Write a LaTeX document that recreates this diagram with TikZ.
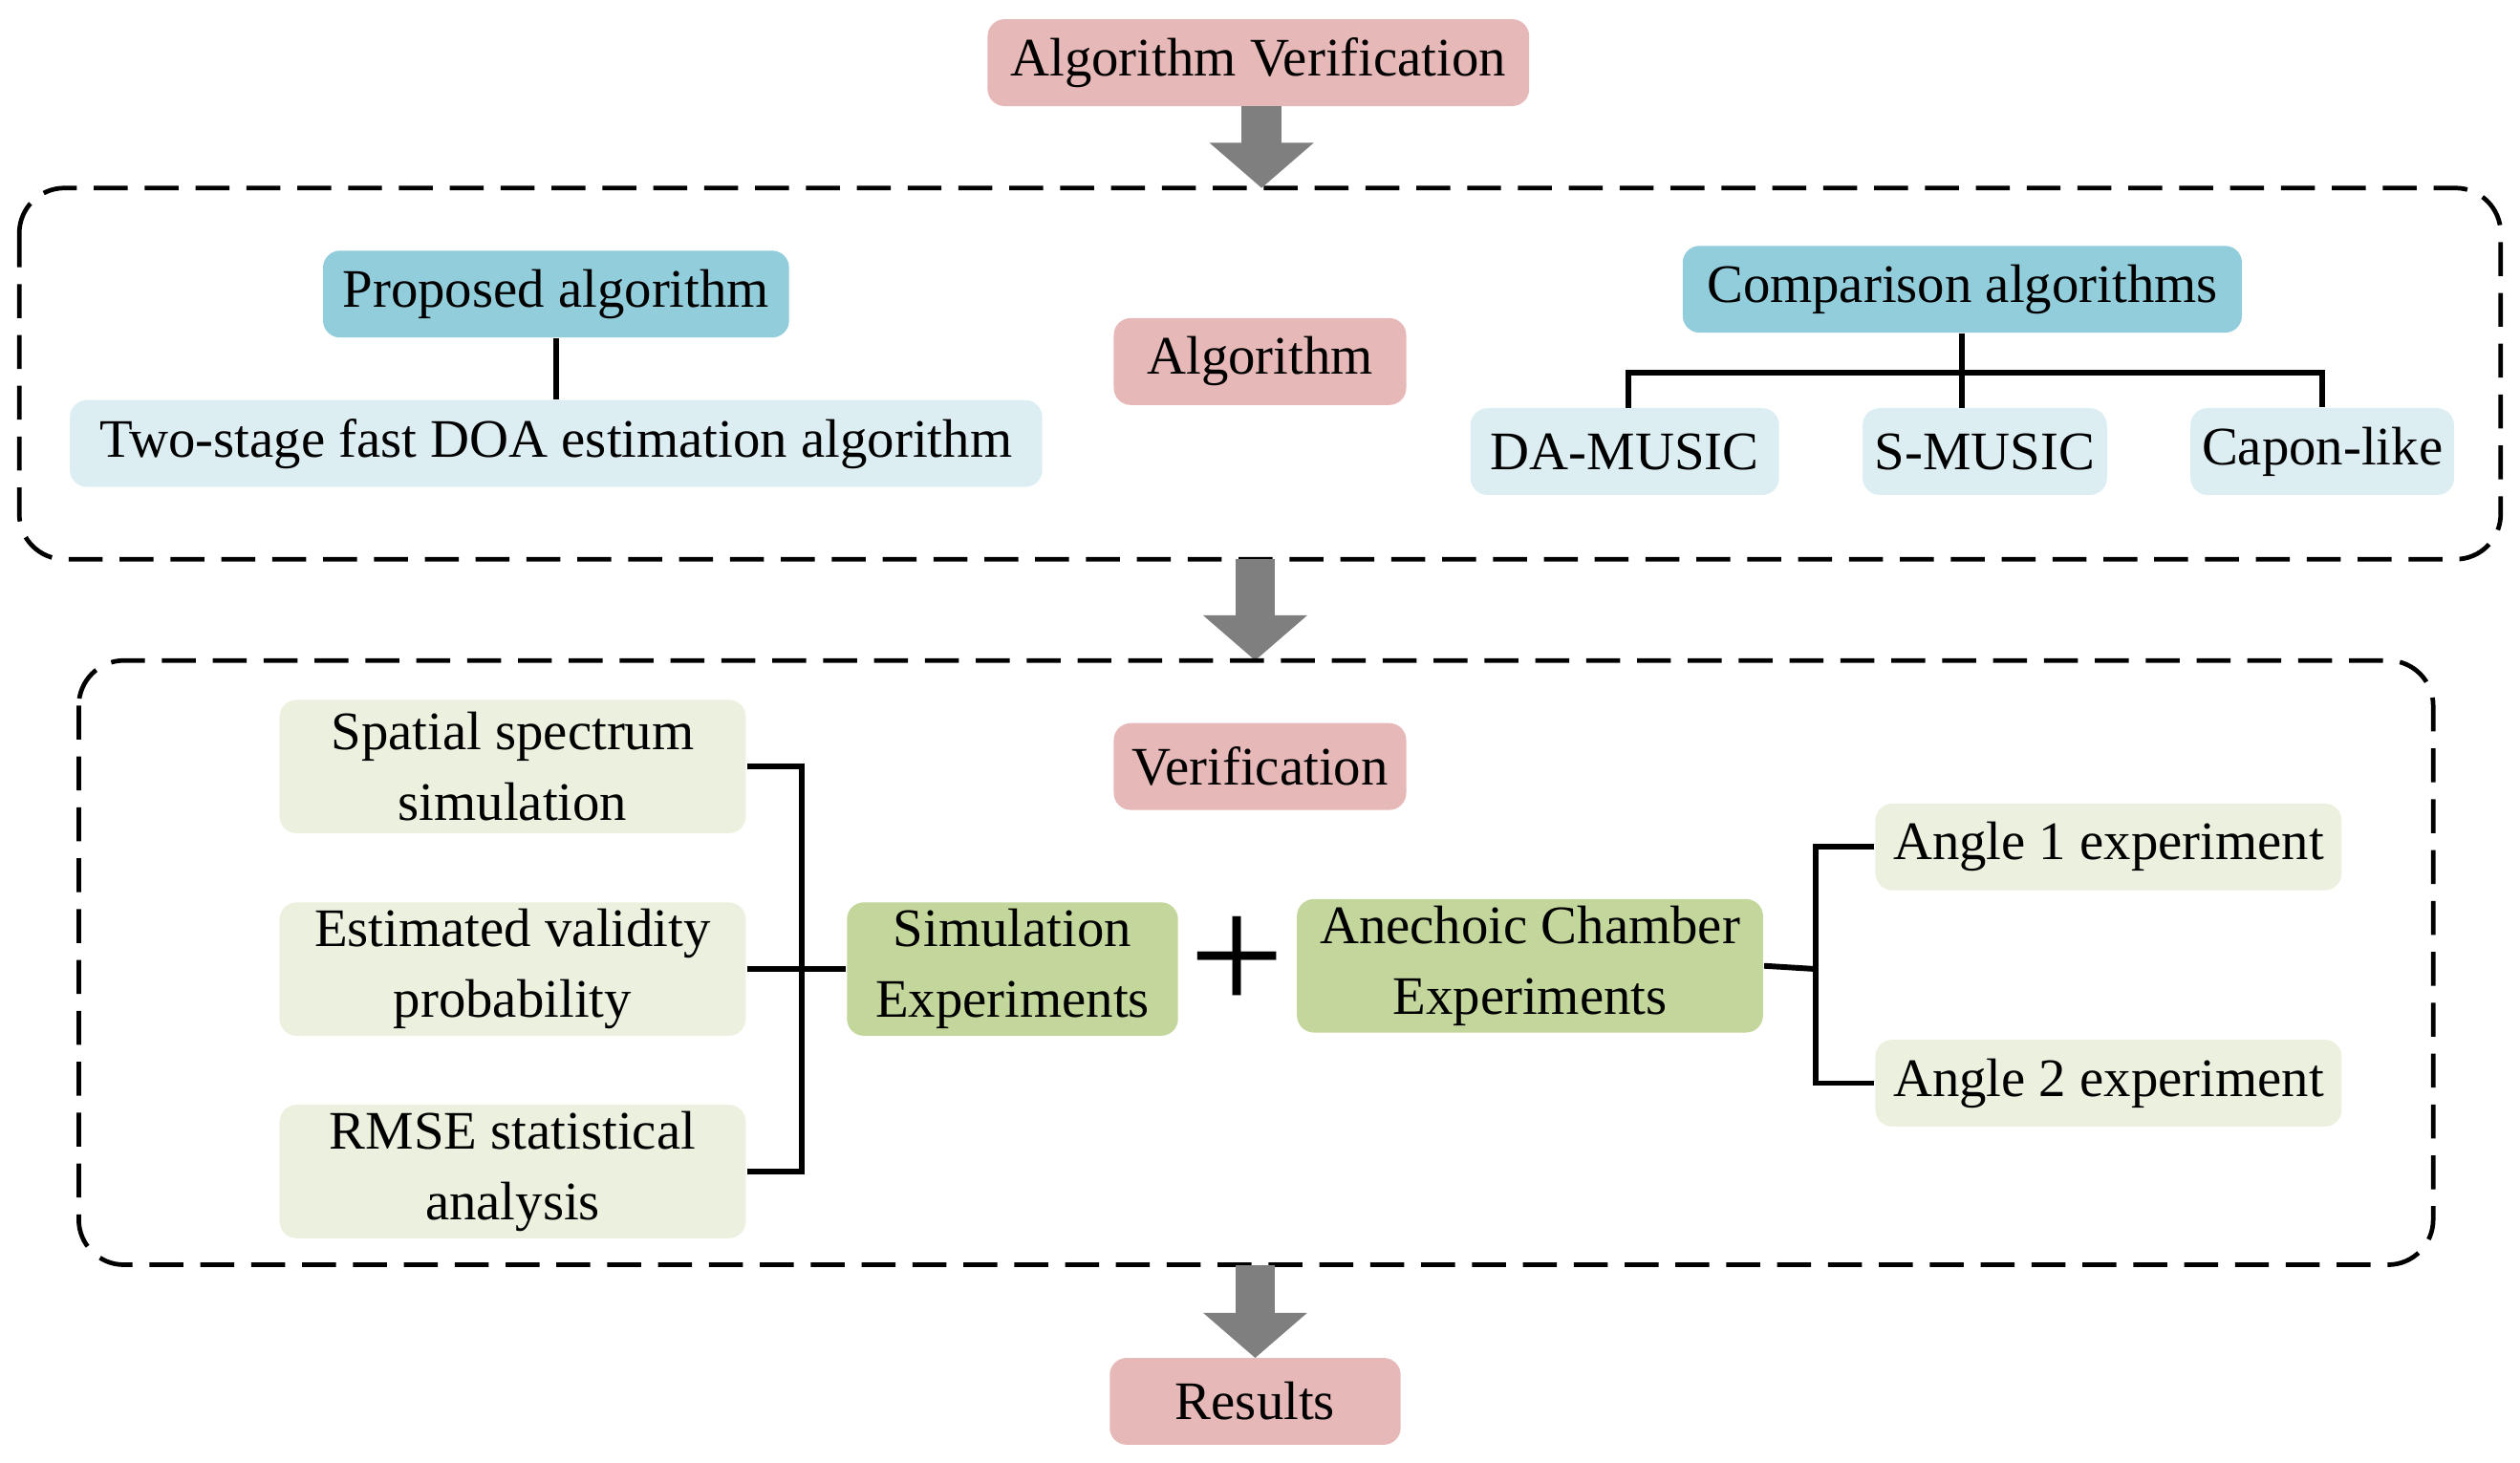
\documentclass[tikz,border=0pt]{standalone}
\usepackage{fontspec}
\setmainfont{Liberation Serif}
\usetikzlibrary{arrows.meta}
\definecolor{pinkc}{HTML}{E6B9B8}
\definecolor{bluec}{HTML}{92CDDC}
\definecolor{lbluec}{HTML}{DDEEF3}
\definecolor{lgreenc}{HTML}{EBF1DE}
\definecolor{greenc}{HTML}{C3D69B}
\definecolor{arrc}{HTML}{7F7F7F}
\begin{document}
\begin{tikzpicture}[x=0.01cm,y=-0.01cm,
  box/.style={rounded corners=3pt,inner sep=0pt,align=center,font=\fontsize{9.6}{12.5}\selectfont},
  pk/.style={box,fill=pinkc,minimum width=#1*0.01cm,minimum height=0.54cm},
  bl/.style={box,fill=bluec,minimum width=#1*0.01cm,minimum height=0.54cm},
  lb/.style={box,fill=lbluec,minimum width=#1*0.01cm,minimum height=0.54cm},
  lg/.style={box,fill=lgreenc,minimum width=2.9cm,minimum height=#1*0.01cm},
  gr/.style={box,fill=greenc,minimum height=0.83cm,minimum width=#1*0.01cm},
  dbox/.style={dash pattern=on 6pt off 3pt,rounded corners=8pt,line width=0.8pt},
  ln/.style={line width=1pt},
  bigarrow/.style={line width=7pt,arrc,-{Triangle[width=18pt,length=8pt]}}]
\useasboundingbox (0,0) rectangle (1568,910);
\node[pk=337] (av) at (783,39) {Algorithm Verification};
\draw[dbox] (12,117) rectangle (1556,348);
\coordinate (a1s) at (785,66); \coordinate (a1e) at (785,117);
\draw[bigarrow] (a1s) -- (a1e);
\node[bl=290] (pa) at (346,183) {Proposed algorithm};
\node[lb=605] (ts) at (346,276) {Two-stage fast DOA estimation algorithm};
\draw[ln] (pa) -- (ts);
\node[pk=182] (alg) at (784,225) {Algorithm};
\node[bl=348] (ca) at (1221,180) {Comparison algorithms};
\node[lb=192] (da) at (1011,281) {DA-MUSIC};
\node[lb=152] (sm) at (1235,281) {S-MUSIC};
\node[lb=164] (cl) at (1445,281) {Capon-like};
\coordinate (cj) at (1221,232);
\draw[ln] (ca.south) -- (cj);
\draw[ln] (1013,254) |- (cj) -| (cl.north);
\draw[ln] (cj) -- (1221,254);
\coordinate (a2s) at (781,348); \coordinate (a2e) at (781,411);
\draw[bigarrow] (a2s) -- (a2e);
\draw[dbox] (49,411) rectangle (1514,787);
\node[lg=83] (ss) at (319,477) {Spatial spectrum\\simulation};
\node[lg=83] (ev) at (319,603) {Estimated validity\\probability};
\node[lg=83] (rm) at (319,729) {RMSE statistical\\analysis};
\node[pk=182] (ver) at (784,477) {Verification};
\node[gr=206] (se) at (630,603) {Simulation\\Experiments};
\node[gr=290] (ae) at (952,601) {Anechoic Chamber\\Experiments};
\draw[ln] (ss.east) -- (499,477) -- (499,729) -- (rm.east);
\draw[ln] (ev.east) -- (se.west);
\node[box,font=\fontsize{30}{30}\selectfont] (plus) at (770,600) {+};
\node[lg=54] (an1) at (1312,527) {Angle 1 experiment};
\node[lg=54] (an2) at (1312,674) {Angle 2 experiment};
\draw[ln] (ae.east) -- (1130,603);
\draw[ln] (an1.west) -- (1130,527) -- (1130,674) -- (an2.west);
\coordinate (a3s) at (781,787); \coordinate (a3e) at (781,845);
\draw[bigarrow] (a3s) -- (a3e);
\node[pk=181] (res) at (781,872) {Results};
\end{tikzpicture}
\end{document}
